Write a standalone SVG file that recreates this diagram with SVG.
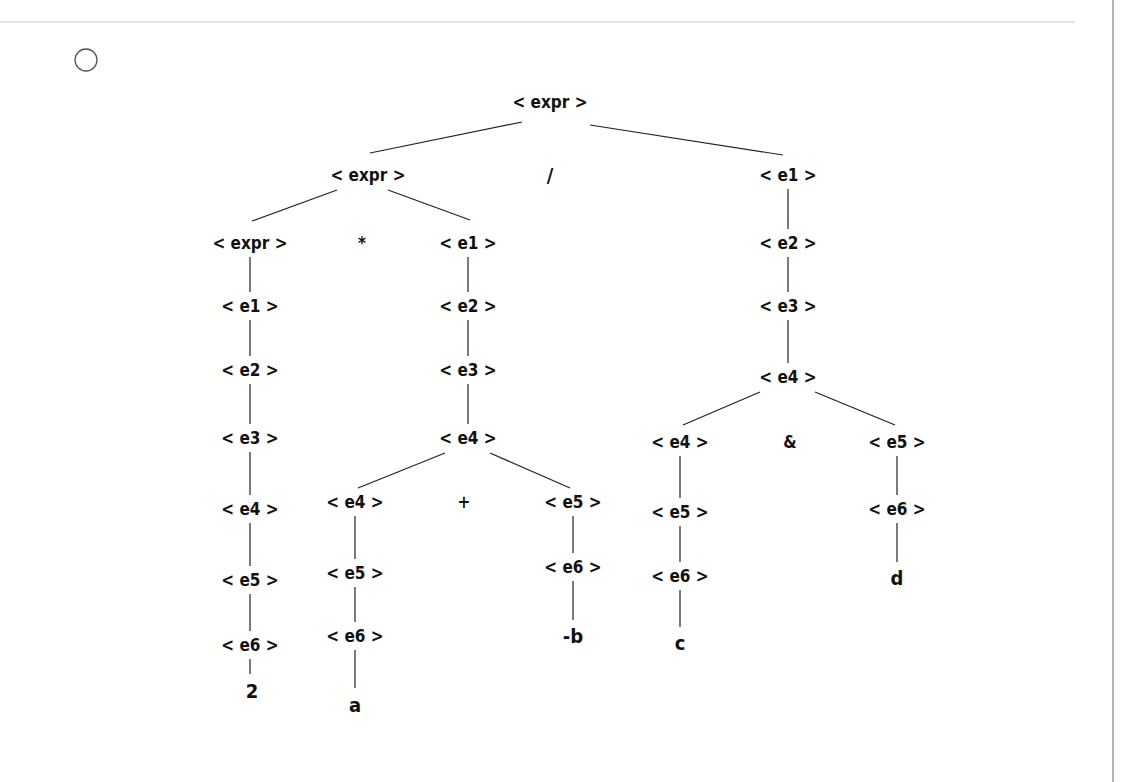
<svg xmlns="http://www.w3.org/2000/svg" width="1122" height="782" viewBox="0 0 1122 782">
<style>
text{font-family:"DejaVu Sans Condensed","Liberation Sans",sans-serif;font-size:17px;font-weight:bold;text-anchor:middle;fill:#111}
.t{font-size:20px}
#edges line{stroke:#222;stroke-width:1.2}
</style>
<rect width="1122" height="782" fill="#fff"/>
<line x1="0" y1="22" x2="1075" y2="22" stroke="#ddd" stroke-width="1.5"/>
<line x1="1113" y1="0" x2="1113" y2="782" stroke="#999" stroke-width="1.5"/>
<circle cx="86" cy="60" r="11" fill="none" stroke="#555" stroke-width="1.3"/>
<g id="edges">
<line x1="522" y1="122" x2="370" y2="153"/>
<line x1="590" y1="125" x2="783" y2="155"/>
<line x1="337" y1="190" x2="252" y2="221"/>
<line x1="388" y1="190" x2="470" y2="220"/>
<line x1="250" y1="257" x2="250" y2="292"/>
<line x1="250" y1="320" x2="250" y2="356"/>
<line x1="250" y1="384" x2="250" y2="424"/>
<line x1="250" y1="452" x2="250" y2="495"/>
<line x1="250" y1="523" x2="250" y2="566"/>
<line x1="250" y1="594" x2="250" y2="631"/>
<line x1="250" y1="659" x2="250" y2="674"/>
<line x1="468" y1="257" x2="468" y2="292"/>
<line x1="468" y1="320" x2="468" y2="356"/>
<line x1="468" y1="384" x2="468" y2="424"/>
<line x1="445" y1="453" x2="358" y2="488"/>
<line x1="490" y1="453" x2="570" y2="488"/>
<line x1="355" y1="516" x2="355" y2="559"/>
<line x1="355" y1="587" x2="355" y2="622"/>
<line x1="355" y1="650" x2="355" y2="688"/>
<line x1="573" y1="516" x2="573" y2="553"/>
<line x1="573" y1="581" x2="573" y2="620"/>
<line x1="788" y1="189" x2="788" y2="229"/>
<line x1="788" y1="257" x2="788" y2="292"/>
<line x1="788" y1="320" x2="788" y2="363"/>
<line x1="760" y1="392" x2="683" y2="425"/>
<line x1="815" y1="392" x2="895" y2="425"/>
<line x1="680" y1="456" x2="680" y2="498"/>
<line x1="680" y1="526" x2="680" y2="562"/>
<line x1="680" y1="590" x2="680" y2="627"/>
<line x1="897" y1="456" x2="897" y2="495"/>
<line x1="897" y1="523" x2="897" y2="562"/>
</g>
<g id="n0"><text x="550" y="108">&lt; expr &gt;</text></g>
<g id="n1"><text x="368" y="181">&lt; expr &gt;</text></g>
<g id="op1"><text class="t" x="550" y="182">/</text></g>
<g id="n2"><text x="788" y="181">&lt; e1 &gt;</text></g>
<g id="n3"><text x="250" y="249">&lt; expr &gt;</text></g>
<g id="op2"><text x="362" y="249">*</text></g>
<g id="n4"><text x="468" y="249">&lt; e1 &gt;</text></g>
<g id="n5"><text x="788" y="249">&lt; e2 &gt;</text></g>
<g id="n6"><text x="250" y="312">&lt; e1 &gt;</text></g>
<g id="n7"><text x="468" y="312">&lt; e2 &gt;</text></g>
<g id="n8"><text x="788" y="312">&lt; e3 &gt;</text></g>
<g id="n9"><text x="250" y="376">&lt; e2 &gt;</text></g>
<g id="n10"><text x="468" y="376">&lt; e3 &gt;</text></g>
<g id="n11"><text x="788" y="383">&lt; e4 &gt;</text></g>
<g id="n12"><text x="250" y="444">&lt; e3 &gt;</text></g>
<g id="n13"><text x="468" y="444">&lt; e4 &gt;</text></g>
<g id="n14"><text x="680" y="448">&lt; e4 &gt;</text></g>
<g id="op3"><text x="790" y="448">&amp;</text></g>
<g id="n15"><text x="897" y="448">&lt; e5 &gt;</text></g>
<g id="n16"><text x="250" y="515">&lt; e4 &gt;</text></g>
<g id="n17"><text x="355" y="508">&lt; e4 &gt;</text></g>
<g id="op4"><text x="464" y="508">+</text></g>
<g id="n18"><text x="573" y="508">&lt; e5 &gt;</text></g>
<g id="n19"><text x="680" y="518">&lt; e5 &gt;</text></g>
<g id="n20"><text x="897" y="515">&lt; e6 &gt;</text></g>
<g id="n21"><text x="250" y="586">&lt; e5 &gt;</text></g>
<g id="n22"><text x="355" y="579">&lt; e5 &gt;</text></g>
<g id="n23"><text x="573" y="573">&lt; e6 &gt;</text></g>
<g id="n24"><text x="680" y="582">&lt; e6 &gt;</text></g>
<g id="n25"><text class="t" x="897" y="585">d</text></g>
<g id="n26"><text x="250" y="651">&lt; e6 &gt;</text></g>
<g id="n27"><text x="355" y="642">&lt; e6 &gt;</text></g>
<g id="n28"><text class="t" x="573" y="643">-b</text></g>
<g id="n29"><text class="t" x="680" y="650">c</text></g>
<g id="n30"><text class="t" x="252" y="698">2</text></g>
<g id="n31"><text class="t" x="355" y="712">a</text></g>
</svg>
